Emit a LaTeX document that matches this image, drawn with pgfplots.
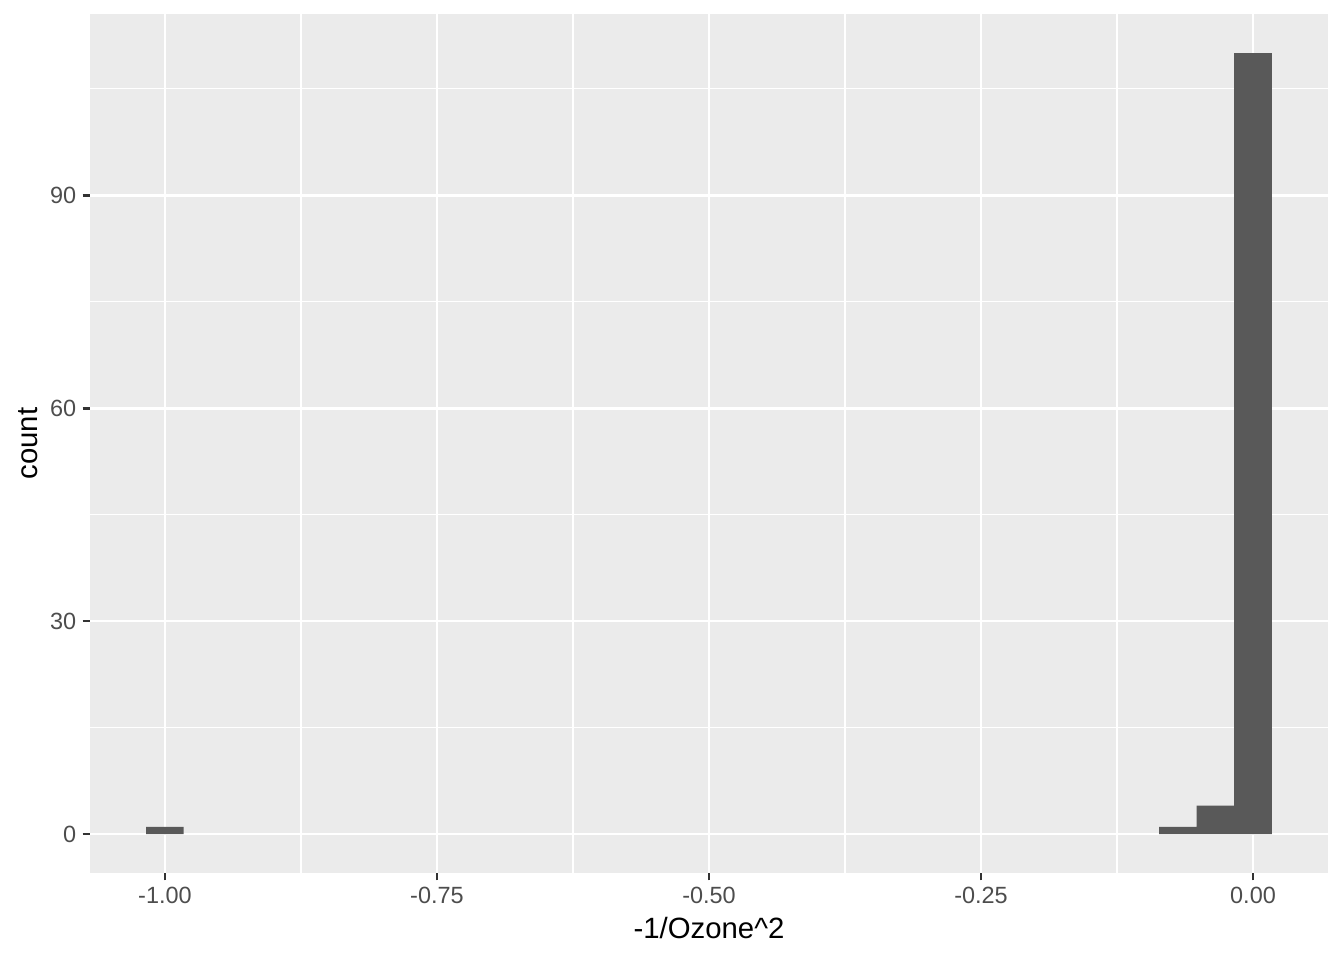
\documentclass[border=0pt]{standalone}
\usepackage{pgfplots}
\pgfplotsset{compat=1.18}
\usepackage{fontspec}
\setmainfont{Liberation Sans}
\definecolor{panelbg}{HTML}{EBEBEB}
\definecolor{barfill}{HTML}{595959}
\definecolor{gray30}{HTML}{4D4D4D}
\definecolor{gray20}{HTML}{333333}
\begin{document}
\begin{tikzpicture}
\useasboundingbox (-33.75pt,-32.6pt) rectangle (470.25pt,327.4pt);
\begin{axis}[
  at={(0pt,0pt)}, anchor=south west,
  scale only axis, width=464.25pt, height=322.1pt,
  xmin=-1.0689, xmax=0.0689, ymin=-5.5, ymax=115.5,
  axis background/.style={fill=panelbg},
  axis line style={draw=none},
  xtick={-1,-0.75,-0.5,-0.25,0},
  xticklabels={-1.00,-0.75,-0.50,-0.25,0.00},
  ytick={0,30,60,90}, yticklabels={0,30,60,90},
  minor xtick={-0.875,-0.625,-0.375,-0.125},
  minor ytick={15,45,75,105},
  grid=both,
  major grid style={white, line width=1.07pt},
  minor grid style={white, line width=0.53pt},
  tick align=outside, major tick length=2.75pt, minor tick length=0pt,
  tick style={gray20, line width=1.07pt},
  xtick pos=lower, ytick pos=left,
  ticklabel style={font=\fontsize{8.8}{10}\selectfont, text=gray30},
  xticklabel style={anchor=north, inner sep=0pt, yshift=-2.2pt},
  yticklabel style={anchor=east, inner sep=0pt, xshift=-2.2pt},
  xlabel={-1/Ozone\textasciicircum 2}, ylabel={count},
  label style={font=\fontsize{11}{13}\selectfont, text=black},
  xlabel style={yshift=-1.8pt},
  ylabel style={yshift=1.2pt},
]
\addplot[ybar, bar width=0.034482, fill=barfill, draw=none]
  coordinates {(-1,1) (-0.06900,1) (-0.03452,4) (-0.0000354,110)};
\end{axis}
\end{tikzpicture}
\end{document}
